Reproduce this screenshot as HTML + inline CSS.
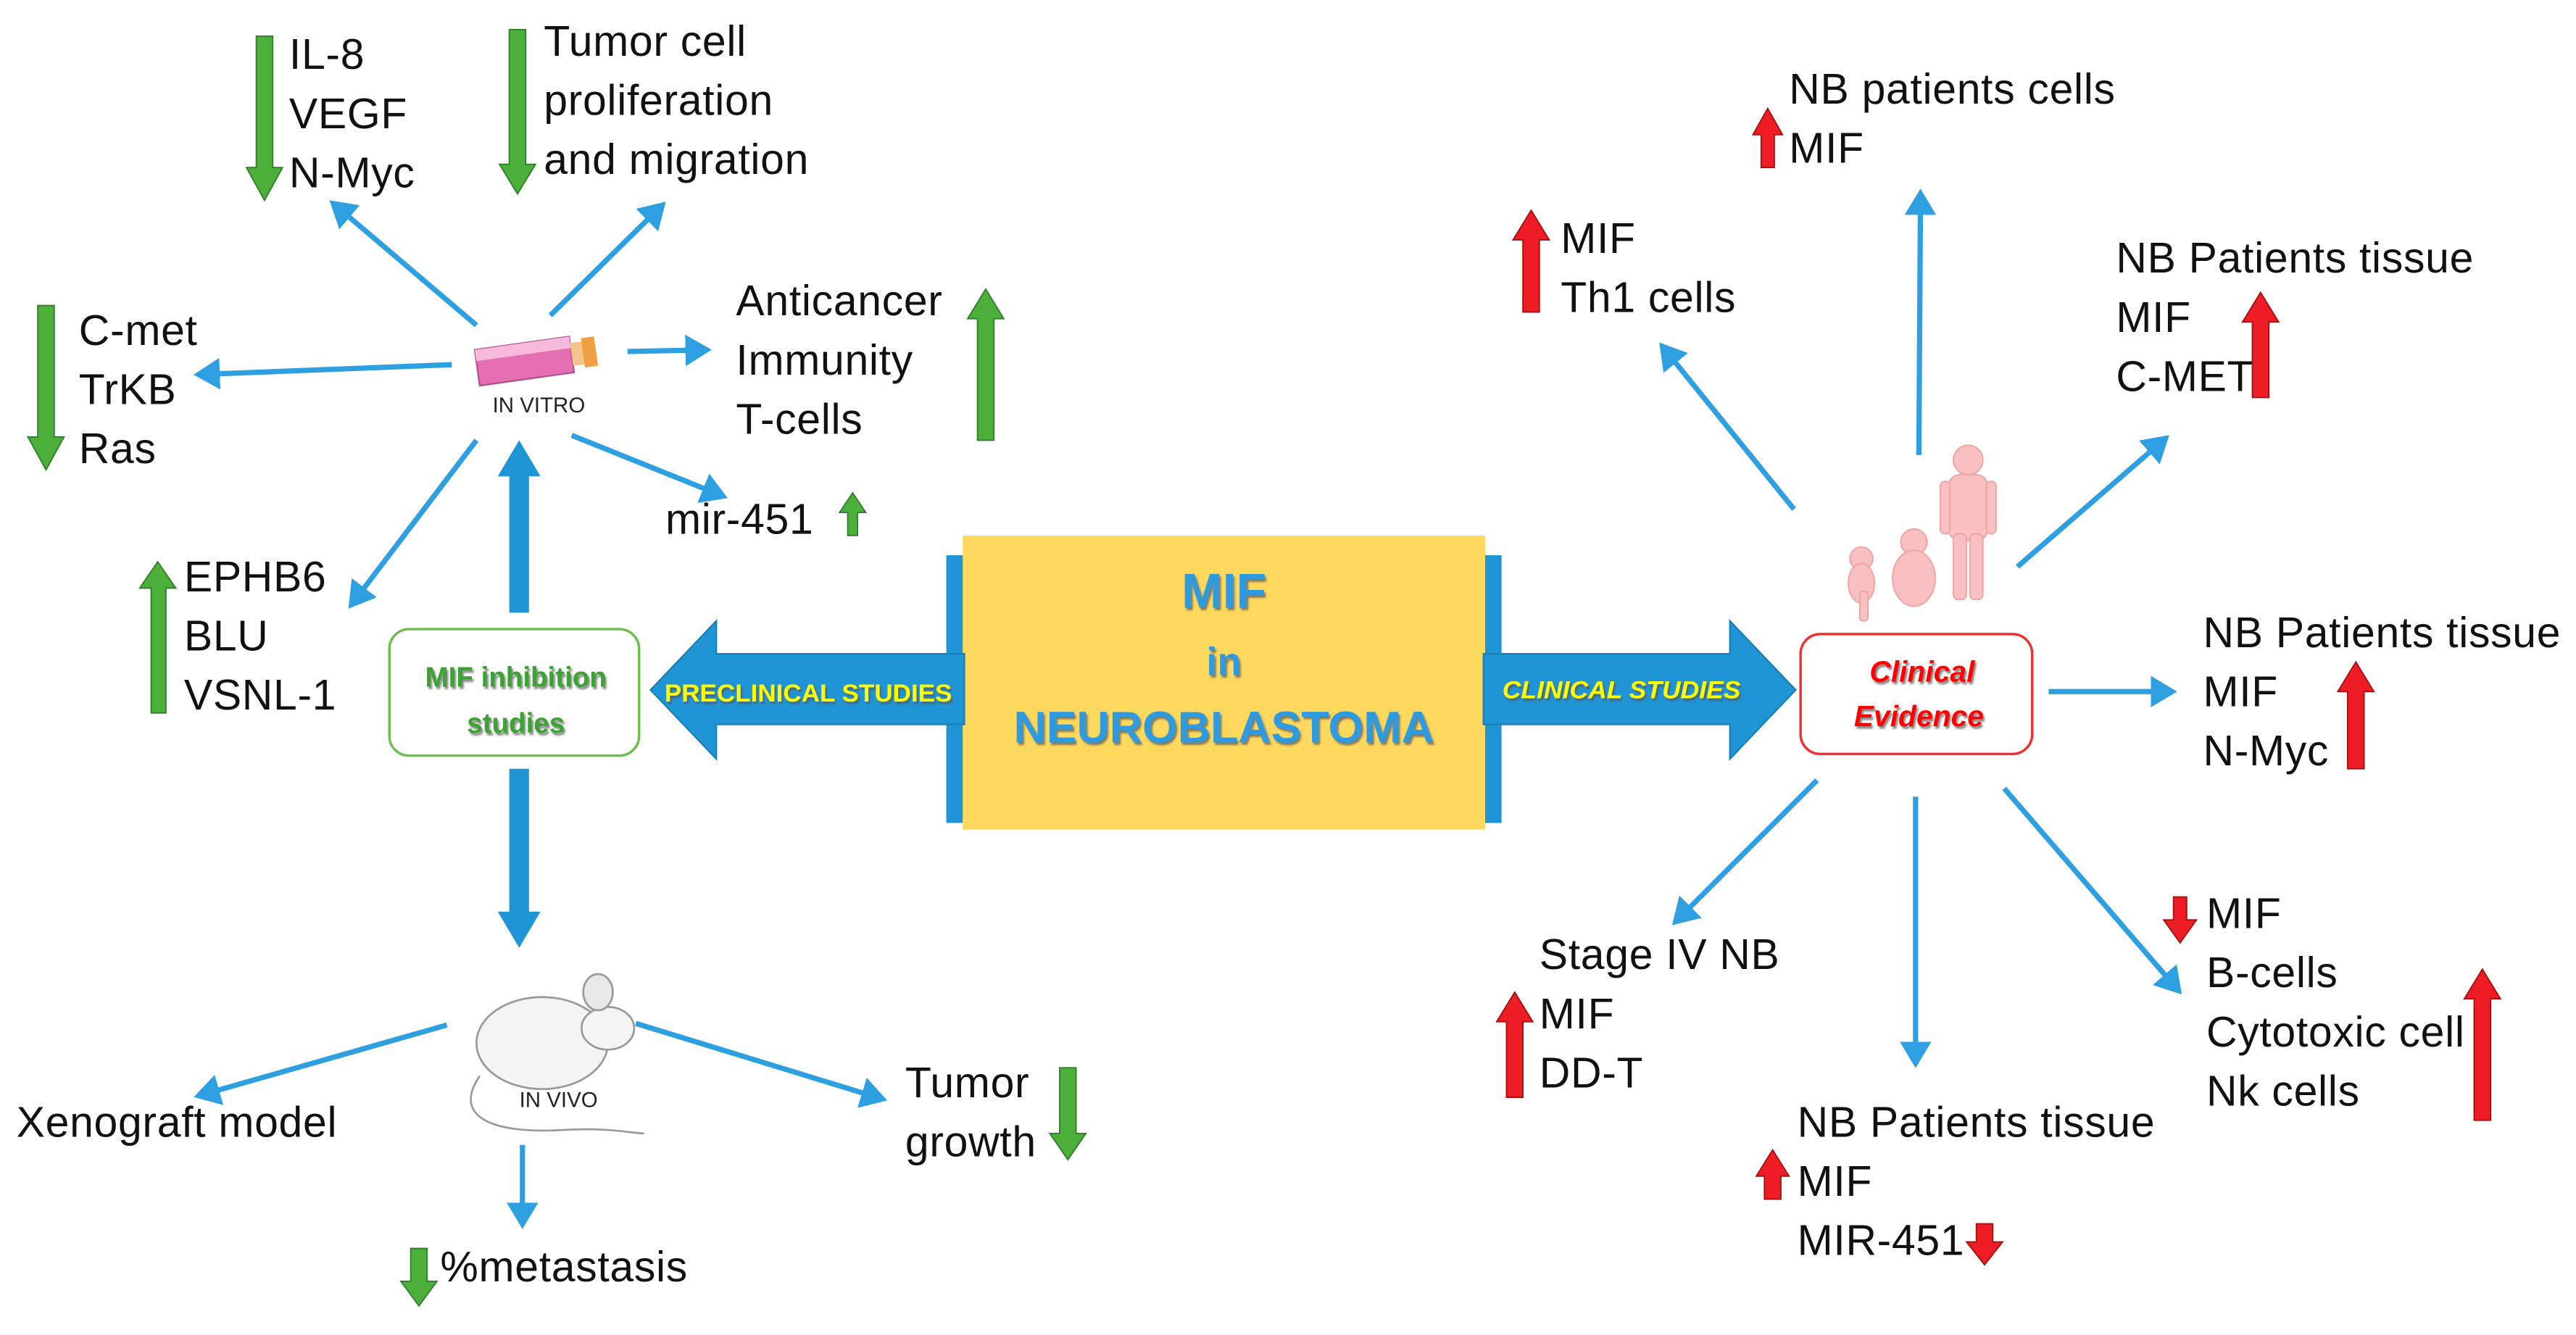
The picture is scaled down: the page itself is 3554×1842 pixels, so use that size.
<!DOCTYPE html>
<html><head><meta charset="utf-8"><style>
html,body{margin:0;padding:0;background:#fff}
svg{display:block}
text{font-family:"Liberation Sans",sans-serif}
.t{font-size:26px;fill:#111;letter-spacing:0.3px}
</style></head><body>
<svg width="3554" height="1842" viewBox="0 0 1568 812.7" preserveAspectRatio="none" xmlns="http://www.w3.org/2000/svg">
<defs>
<marker id="ah" markerWidth="6" markerHeight="6" refX="4" refY="3" orient="auto" markerUnits="strokeWidth"><path d="M0,0 L5,3 L0,6 z" fill="#2e9fe0"/></marker>
<filter id="sh"><feDropShadow dx="1" dy="1.5" stdDeviation="0.6" flood-color="#555" flood-opacity="0.7"/></filter>
</defs>
<rect width="1568" height="813" fill="#fff"/>

<rect x="576" y="338" width="11" height="163" fill="#1f95d6"/>
<rect x="903" y="338" width="11" height="163" fill="#1f95d6"/>
<rect x="586" y="326" width="318" height="179" fill="#ffd95e"/>
<polygon points="396,420 436,378 436,398 587,398 587,441 436,441 436,462" fill="#1f95d6" stroke="#1a7fb8" stroke-width="1"/>
<polygon points="1093,420 1053,378 1053,398 903,398 903,441 1053,441 1053,462" fill="#1f95d6" stroke="#1a7fb8" stroke-width="1"/>
<text x="492" y="427" font-size="15" font-weight="bold" fill="#ffff00" text-anchor="middle" filter="url(#sh)" textLength="175" lengthAdjust="spacingAndGlyphs">PRECLINICAL STUDIES</text>
<text x="987" y="425" font-size="15" font-weight="bold" font-style="italic" fill="#ffff00" text-anchor="middle" filter="url(#sh)" textLength="145" lengthAdjust="spacingAndGlyphs">CLINICAL STUDIES</text>
<g fill="#2f9be0" font-weight="bold" text-anchor="middle" filter="url(#sh)">
<text x="745" y="370" font-size="30">MIF</text>
<text x="745" y="411" font-size="24">in</text>
<text x="745" y="452" font-size="27" textLength="256" lengthAdjust="spacingAndGlyphs">NEUROBLASTOMA</text>
</g>

<rect x="237" y="383" width="152" height="77" rx="12" fill="#fff" stroke="#6cc04a" stroke-width="1.5"/>
<g fill="#3aa332" font-weight="bold" font-size="17" text-anchor="middle" filter="url(#sh)">
<text x="314" y="418">MIF inhibition</text><text x="314" y="446">studies</text></g>
<rect x="1096" y="386" width="141" height="73" rx="12" fill="#fff" stroke="#f03030" stroke-width="1.5"/>
<g fill="#ff0000" font-weight="bold" font-style="italic" font-size="18" text-anchor="middle" filter="url(#sh)">
<text x="1170" y="415">Clinical</text><text x="1168" y="442">Evidence</text></g>

<polygon points="316,268 329,290 322,290 322,373 310,373 310,290 303,290" fill="#1f95d6"/>
<polygon points="316,577 329,555 322,555 322,468 310,468 310,555 303,555" fill="#1f95d6"/>

<g stroke="#2e9fe0" stroke-width="3.2" fill="none" marker-end="url(#ah)">
<line x1="290" y1="198" x2="203" y2="124"/>
<line x1="335" y1="192" x2="403" y2="125"/>
<line x1="275" y1="222" x2="121" y2="228"/>
<line x1="382" y1="214" x2="430" y2="213"/>
<line x1="348" y1="265" x2="440" y2="302"/>
<line x1="290" y1="268" x2="214" y2="368"/>
<line x1="272" y1="624" x2="121" y2="667"/>
<line x1="387" y1="623" x2="537" y2="669"/>
<line x1="318" y1="697" x2="318" y2="745"/>
<line x1="1092" y1="310" x2="1012" y2="211"/>
<line x1="1168" y1="277" x2="1169" y2="118"/>
<line x1="1228" y1="345" x2="1318" y2="267"/>
<line x1="1247" y1="421" x2="1322" y2="421"/>
<line x1="1220" y1="480" x2="1326" y2="603"/>
<line x1="1166" y1="485" x2="1166" y2="647"/>
<line x1="1106" y1="475" x2="1020" y2="561"/>
</g>

<g transform="rotate(-8 325 218)">
<rect x="290" y="208" width="58" height="22" fill="#e56fb0" stroke="#b05090" stroke-width="1"/>
<rect x="290" y="208" width="58" height="7" fill="#f7b9dc"/>
<rect x="348" y="212" width="8" height="14" fill="#f2c38a"/>
<rect x="355" y="210" width="8" height="18" fill="#f0a040"/>
</g>
<text x="328" y="251" font-size="13" text-anchor="middle" fill="#222">IN VITRO</text>

<g fill="#f4f4f4" stroke="#9a9a9a" stroke-width="1.2">
<ellipse cx="330" cy="635" rx="40" ry="28"/>
<ellipse cx="370" cy="626" rx="16" ry="13"/>
<ellipse cx="364" cy="604" rx="9" ry="11" fill="#e8e8e8"/>
<path d="M292,655 C275,680 300,690 340,688 C370,686 385,690 392,690" fill="none"/>
</g>
<text x="340" y="674" font-size="13" text-anchor="middle" fill="#222">IN VIVO</text>

<g fill="#f8c0c0" stroke="#f0a0a0" stroke-width="0.8">
<circle cx="1198" cy="280" r="9"/>
<rect x="1186" y="289" width="24" height="40" rx="7"/>
<rect x="1189" y="325" width="8" height="40" rx="3"/>
<rect x="1199" y="325" width="8" height="40" rx="3"/>
<rect x="1181" y="293" width="6" height="32" rx="3"/>
<rect x="1209" y="293" width="6" height="32" rx="3"/>
<circle cx="1165" cy="330" r="8"/>
<ellipse cx="1165" cy="352" rx="13" ry="17"/>
<circle cx="1133" cy="340" r="7"/>
<ellipse cx="1133" cy="355" rx="8" ry="12"/>
<rect x="1132" y="360" width="5" height="18" rx="2"/>
</g>

<g>
<text x="176" y="42" class="t">IL-8</text><text x="176" y="78" class="t">VEGF</text><text x="176" y="114" class="t">N-Myc</text>
<text x="331" y="34" class="t">Tumor cell</text><text x="331" y="70" class="t">proliferation</text><text x="331" y="106" class="t">and migration</text>
<text x="48" y="210" class="t">C-met</text><text x="48" y="246" class="t">TrKB</text><text x="48" y="282" class="t">Ras</text>
<text x="448" y="192" class="t">Anticancer</text><text x="448" y="228" class="t">Immunity</text><text x="448" y="264" class="t">T-cells</text>
<text x="405" y="325" class="t">mir-451</text>
<text x="112" y="360" class="t">EPHB6</text><text x="112" y="396" class="t">BLU</text><text x="112" y="432" class="t">VSNL-1</text>
<text x="10" y="692" class="t">Xenograft model</text>
<text x="551" y="668" class="t">Tumor</text><text x="551" y="704" class="t">growth</text>
<text x="268" y="780" class="t">%metastasis</text>
<text x="1089" y="63" class="t">NB patients cells</text><text x="1089" y="99" class="t">MIF</text>
<text x="950" y="154" class="t">MIF</text><text x="950" y="190" class="t">Th1 cells</text>
<text x="1288" y="166" class="t">NB Patients tissue</text><text x="1288" y="202" class="t">MIF</text><text x="1288" y="238" class="t">C-MET</text>
<text x="1341" y="394" class="t">NB Patients tissue</text><text x="1341" y="430" class="t">MIF</text><text x="1341" y="466" class="t">N-Myc</text>
<text x="1343" y="565" class="t">MIF</text><text x="1343" y="601" class="t">B-cells</text><text x="1343" y="637" class="t">Cytotoxic cell</text><text x="1343" y="673" class="t">Nk cells</text>
<text x="937" y="590" class="t">Stage IV NB</text><text x="937" y="626" class="t">MIF</text><text x="937" y="662" class="t">DD-T</text>
<text x="1094" y="692" class="t">NB Patients tissue</text><text x="1094" y="728" class="t">MIF</text><text x="1094" y="764" class="t">MIR-451</text>
</g>

<g fill="#4caf3a" stroke="#2f7d2a" stroke-width="0.8">
<polygon points="156,22 166,22 166,102 172,102 161,122 150,102 156,102"/>
<polygon points="310,18 320,18 320,100 326,100 315,118 304,100 310,100"/>
<polygon points="23,186 33,186 33,266 39,266 28,286 17,266 23,266"/>
<polygon points="645,650 655,650 655,690 661,690 650,706 639,690 645,690"/>
<polygon points="250,760 260,760 260,780 266,780 255,795 244,780 250,780"/>
<polygon points="595,268 605,268 605,194 611,194 600,176 589,194 595,194"/>
<polygon points="516,326 522,326 522,312 527,312 519,300 511,312 516,312"/>
<polygon points="92,434 101,434 101,358 107,358 96,342 85,358 92,358"/>
</g>
<g fill="#ee1c24" stroke="#a01010" stroke-width="0.8">
<polygon points="1072,102 1080,102 1080,82 1085,82 1076,66 1067,82 1072,82"/>
<polygon points="927,190 937,190 937,146 943,146 932,128 921,146 927,146"/>
<polygon points="1371,242 1381,242 1381,196 1387,196 1376,178 1365,196 1371,196"/>
<polygon points="1429,468 1439,468 1439,421 1445,421 1434,403 1423,421 1429,421"/>
<polygon points="1323,546 1331,546 1331,560 1337,560 1327,574 1317,560 1323,560"/>
<polygon points="1506,682 1516,682 1516,608 1522,608 1511,590 1500,608 1506,608"/>
<polygon points="917,668 927,668 927,622 933,622 922,604 911,622 917,622"/>
<polygon points="1074,730 1084,730 1084,716 1089,716 1079,700 1069,716 1074,716"/>
<polygon points="1203,745 1213,745 1213,756 1219,756 1208,770 1197,756 1203,756"/>
</g>
</svg>
</body></html>
